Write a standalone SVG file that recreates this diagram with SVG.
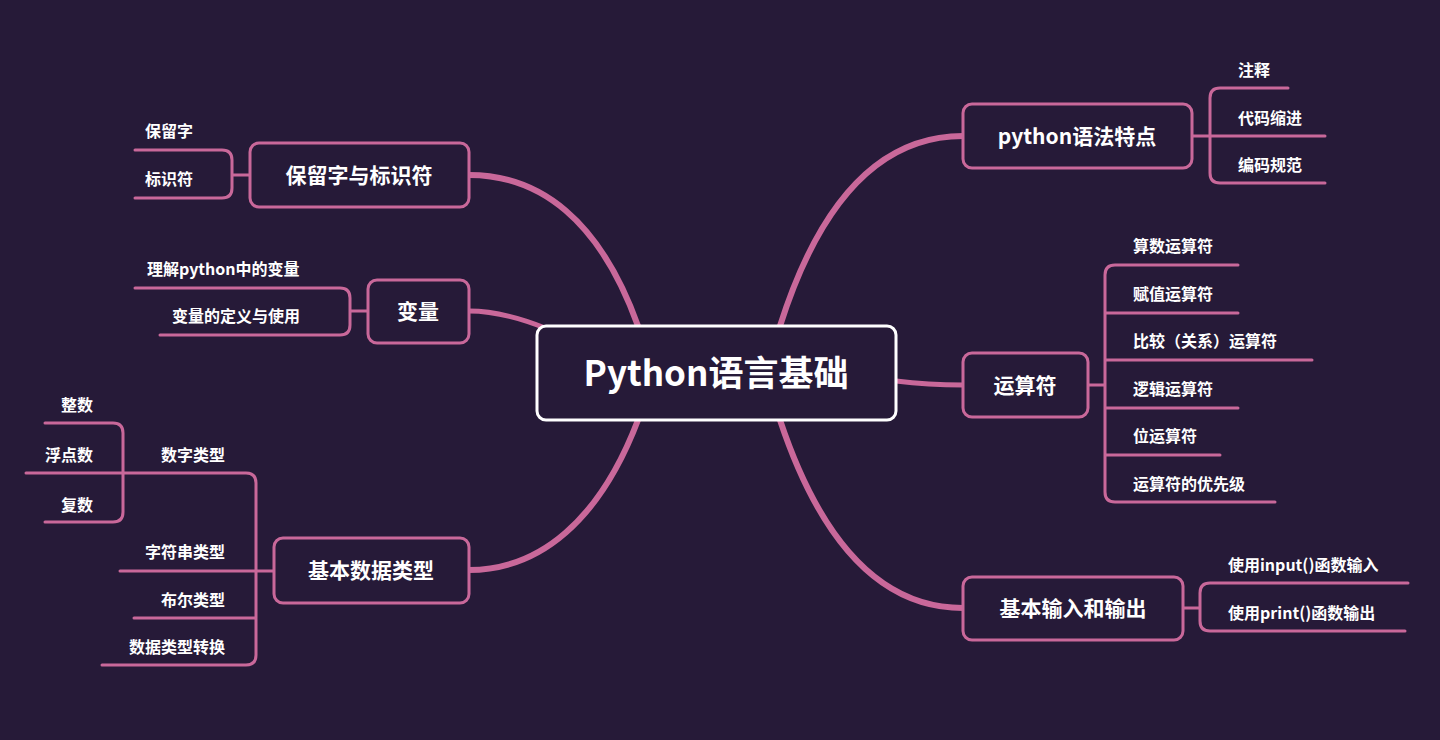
<svg xmlns="http://www.w3.org/2000/svg" width="1440" height="740" viewBox="0 0 1440 740">
<style>
.b{fill:#261a38;stroke:#c9689a;stroke-width:3}
.t{font-family:"Noto Sans CJK SC","Liberation Sans",sans-serif;font-weight:bold;fill:#fff}
.m{font-size:21px;text-anchor:middle}
.s{font-size:16px}
.r{text-anchor:end}
.l{fill:none;stroke:#c9689a;stroke-width:3;stroke-linecap:round;stroke-linejoin:round}
.c{fill:none;stroke:#c9689a;stroke-linecap:round}
</style>
<rect width="1440" height="740" fill="#261a38"/>
<g id="connectors">
<path class="c" stroke-width="6" d="M780 326 C820 200 880 136 963 136"/>
<path class="c" stroke-width="5" d="M896 381 C920 384 940 385 963 385"/>
<path class="c" stroke-width="6" d="M780 420 C820 540 880 608 963 608"/>
<path class="c" stroke-width="6" d="M638 326 C600 220 540 175 469 175"/>
<path class="c" stroke-width="5" d="M545 328 C520 318 495 311 469 311"/>
<path class="c" stroke-width="6" d="M638 420 C600 520 540 570 469 570"/>
<path class="l" d="M1192 136 H1210 M1288 88 H1220 Q1210 88 1210 98 V173 Q1210 183 1220 183 H1325 M1210 136 H1325"/>
<path class="l" d="M1088 385 H1105 M1238 265 H1115 Q1105 265 1105 275 V492 Q1105 502 1115 502 H1275 M1105 313 H1238 M1105 360 H1312 M1105 408 H1238 M1105 455 H1220"/>
<path class="l" d="M1183 608 H1200 M1408 583 H1210 Q1200 583 1200 593 V621 Q1200 631 1210 631 H1405"/>
<path class="l" d="M250 175 H232 M135 150 H222 Q232 150 232 160 V188 Q232 198 222 198 H135"/>
<path class="l" d="M368 311 H350 M135 288 H340 Q350 288 350 298 V325 Q350 335 340 335 H160"/>
<path class="l" d="M274 571 H256 M26 473 H246 Q256 473 256 483 V655 Q256 665 246 665 H102 M256 571 H120 M256 618 H134"/>
<path class="l" d="M45 423 H113 Q123 423 123 433 V512 Q123 522 113 522 H45"/>
</g>
<g id="center"><rect x="537" y="326" width="359" height="94" rx="9" fill="#261a38" stroke="#fff" stroke-width="3"/><text class="t" x="716" y="386" font-size="35" text-anchor="middle">Python语言基础</text></g>
<g id="n1"><rect class="b" x="963" y="104" width="229" height="64" rx="9"/><text class="t m" x="1077" y="144">python语法特点</text></g>
<g id="n2"><rect class="b" x="963" y="353" width="125" height="64" rx="9"/><text class="t m" x="1025" y="393">运算符</text></g>
<g id="n3"><rect class="b" x="963" y="577" width="220" height="63" rx="9"/><text class="t m" x="1073" y="616">基本输入和输出</text></g>
<g id="n4"><rect class="b" x="250" y="143" width="219" height="64" rx="9"/><text class="t m" x="359" y="183">保留字与标识符</text></g>
<g id="n5"><rect class="b" x="368" y="280" width="101" height="63" rx="9"/><text class="t m" x="418" y="319">变量</text></g>
<g id="n6"><rect class="b" x="274" y="538" width="195" height="65" rx="9"/><text class="t m" x="371" y="578">基本数据类型</text></g>
<g id="leaves">
<text class="t s" x="1238" y="76">注释</text>
<text class="t s" x="1238" y="124">代码缩进</text>
<text class="t s" x="1238" y="171">编码规范</text>
<text class="t s" x="1133" y="252">算数运算符</text>
<text class="t s" x="1133" y="300">赋值运算符</text>
<text class="t s" x="1133" y="347">比较（关系）运算符</text>
<text class="t s" x="1133" y="395">逻辑运算符</text>
<text class="t s" x="1133" y="442">位运算符</text>
<text class="t s" x="1133" y="490">运算符的优先级</text>
<text class="t s" x="1228" y="571">使用input()函数输入</text>
<text class="t s" x="1228" y="619">使用print()函数输出</text>
<text class="t s" x="145" y="137">保留字</text>
<text class="t s" x="145" y="185">标识符</text>
<text class="t s" x="147" y="275">理解python中的变量</text>
<text class="t s" x="172" y="322">变量的定义与使用</text>
<text class="t s r" x="225" y="461">数字类型</text>
<text class="t s r" x="225" y="558">字符串类型</text>
<text class="t s r" x="225" y="606">布尔类型</text>
<text class="t s r" x="225" y="653">数据类型转换</text>
<text class="t s r" x="93" y="411">整数</text>
<text class="t s r" x="93" y="461">浮点数</text>
<text class="t s r" x="93" y="511">复数</text>
</g>
</svg>
